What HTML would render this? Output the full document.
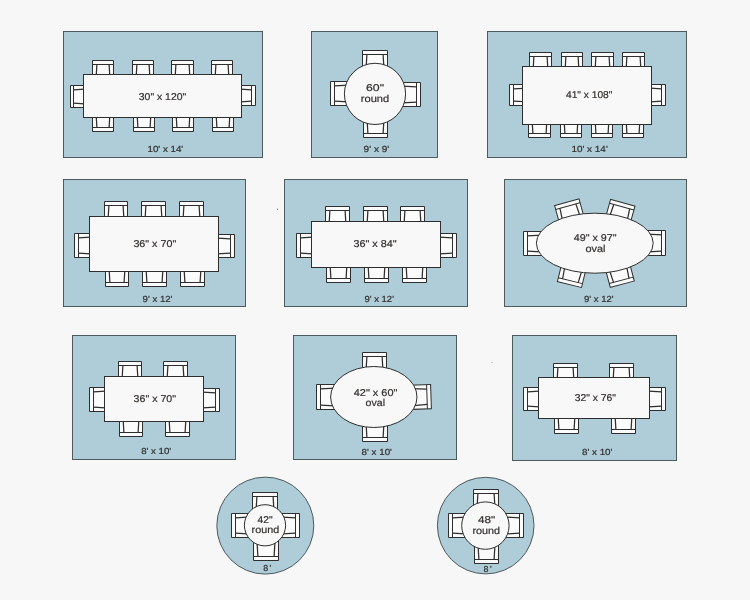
<!DOCTYPE html>
<html><head><meta charset="utf-8"><title>Rug size guide</title>
<style>
html,body{margin:0;padding:0;background:#f7f7f7;}
body{width:750px;height:600px;overflow:hidden;font-family:"Liberation Sans",sans-serif;}
svg{display:block;will-change:transform}
svg g path, svg ellipse, svg rect{stroke-linejoin:miter}
.t{text-rendering:geometricPrecision;font-family:"Liberation Sans",sans-serif;fill:#33302e;stroke:#33302e;stroke-width:.2px}
</style></head><body>
<svg width="750" height="600" viewBox="0 0 750 600" stroke="#2e2e2e" stroke-width="1">
<rect x="0" y="0" width="750" height="600" fill="#f7f7f7" stroke="none"/>
<rect x="63.5" y="31.5" width="199" height="126" fill="#aecdd8" stroke="#4d5a5e" stroke-width="1"/>
<g transform="translate(103 60.5) rotate(0)"><path d="M-10.5 0H10.5V15H-10.5Z" fill="#fbfbfb"/><path d="M-10.5 4H10.5" fill="none"/><path d="M-6.1 4L-6.76 15 M6.1 4L6.76 15" fill="none" stroke-width="1.25"/></g>
<g transform="translate(143 60.5) rotate(0)"><path d="M-10.5 0H10.5V15H-10.5Z" fill="#fbfbfb"/><path d="M-10.5 4H10.5" fill="none"/><path d="M-6.1 4L-6.76 15 M6.1 4L6.76 15" fill="none" stroke-width="1.25"/></g>
<g transform="translate(182.5 60.5) rotate(0)"><path d="M-11 0H11V15H-11Z" fill="#fbfbfb"/><path d="M-11 4H11" fill="none"/><path d="M-6.6 4L-7.26 15 M6.6 4L7.26 15" fill="none" stroke-width="1.25"/></g>
<g transform="translate(222 60.5) rotate(0)"><path d="M-10.5 0H10.5V15H-10.5Z" fill="#fbfbfb"/><path d="M-10.5 4H10.5" fill="none"/><path d="M-6.1 4L-6.76 15 M6.1 4L6.76 15" fill="none" stroke-width="1.25"/></g>
<g transform="translate(103 131.5) rotate(180)"><path d="M-10.5 0H10.5V15H-10.5Z" fill="#fbfbfb"/><path d="M-10.5 4H10.5" fill="none"/><path d="M-6.1 4L-6.76 15 M6.1 4L6.76 15" fill="none" stroke-width="1.25"/></g>
<g transform="translate(144 131.5) rotate(180)"><path d="M-10.5 0H10.5V15H-10.5Z" fill="#fbfbfb"/><path d="M-10.5 4H10.5" fill="none"/><path d="M-6.1 4L-6.76 15 M6.1 4L6.76 15" fill="none" stroke-width="1.25"/></g>
<g transform="translate(183 131.5) rotate(180)"><path d="M-10.5 0H10.5V15H-10.5Z" fill="#fbfbfb"/><path d="M-10.5 4H10.5" fill="none"/><path d="M-6.1 4L-6.76 15 M6.1 4L6.76 15" fill="none" stroke-width="1.25"/></g>
<g transform="translate(223 131.5) rotate(180)"><path d="M-10.5 0H10.5V15H-10.5Z" fill="#fbfbfb"/><path d="M-10.5 4H10.5" fill="none"/><path d="M-6.1 4L-6.76 15 M6.1 4L6.76 15" fill="none" stroke-width="1.25"/></g>
<g transform="translate(70.5 96.5) rotate(-90)"><path d="M-11 0H11V14H-11Z" fill="#fbfbfb"/><path d="M-11 3H11" fill="none"/><path d="M-6.6 3L-7.26 14 M6.6 3L7.26 14" fill="none" stroke-width="1.25"/></g>
<g transform="translate(255.5 95.5) rotate(90)"><path d="M-10 0H10V15H-10Z" fill="#fbfbfb"/><path d="M-10 4H10" fill="none"/><path d="M-5.6 4L-6.26 15 M5.6 4L6.26 15" fill="none" stroke-width="1.25"/></g>
<rect x="83.5" y="74.5" width="158" height="43" fill="#f8f8f8"/>
<text class="t" x="138.8" y="99.8" font-size="9.9" textLength="47.4" lengthAdjust="spacingAndGlyphs">30&quot; x 120&quot;</text>
<text class="t" x="147.5" y="152" font-size="8.9" textLength="35.7" lengthAdjust="spacingAndGlyphs">10' x 14'</text>
<rect x="311.5" y="31.5" width="126" height="126" fill="#aecdd8" stroke="#4d5a5e" stroke-width="1"/>
<g transform="translate(375 50.5) rotate(0)"><path d="M-12.5 0H12.5V21H-12.5Z" fill="#fbfbfb"/><path d="M-12.5 4H12.5" fill="none"/><path d="M-8.1 4L-9.12 21 M8.1 4L9.12 21" fill="none" stroke-width="1.25"/></g>
<g transform="translate(375.5 137.5) rotate(180)"><path d="M-12 0H12V21H-12Z" fill="#fbfbfb"/><path d="M-12 4H12" fill="none"/><path d="M-7.6 4L-8.62 21 M7.6 4L8.62 21" fill="none" stroke-width="1.25"/></g>
<g transform="translate(330.5 93.5) rotate(-90)"><path d="M-12 0H12V23H-12Z" fill="#fbfbfb"/><path d="M-12 4H12" fill="none"/><path d="M-7.6 4L-8.74 23 M7.6 4L8.74 23" fill="none" stroke-width="1.25"/></g>
<g transform="translate(420.5 94.5) rotate(90)"><path d="M-12 0H12V23H-12Z" fill="#fbfbfb"/><path d="M-12 4H12" fill="none"/><path d="M-7.6 4L-8.74 23 M7.6 4L8.74 23" fill="none" stroke-width="1.25"/></g>
<ellipse cx="375" cy="93.9" rx="30.6" ry="30.6" fill="#f8f8f8"/>
<text class="t" x="366" y="91.2" font-size="9.9" textLength="18" lengthAdjust="spacingAndGlyphs">60&quot;</text>
<text class="t" x="360.8" y="101.9" font-size="9.9" textLength="28.4" lengthAdjust="spacingAndGlyphs">round</text>
<text class="t" x="363.6" y="152.3" font-size="8.9" textLength="25.6" lengthAdjust="spacingAndGlyphs">9' x 9'</text>
<rect x="487.5" y="31.5" width="199" height="126" fill="#aecdd8" stroke="#4d5a5e" stroke-width="1"/>
<g transform="translate(540.5 52.5) rotate(0)"><path d="M-11 0H11V15H-11Z" fill="#fbfbfb"/><path d="M-11 4H11" fill="none"/><path d="M-6.6 4L-7.26 15 M6.6 4L7.26 15" fill="none" stroke-width="1.25"/></g>
<g transform="translate(572 52.5) rotate(0)"><path d="M-10.5 0H10.5V15H-10.5Z" fill="#fbfbfb"/><path d="M-10.5 4H10.5" fill="none"/><path d="M-6.1 4L-6.76 15 M6.1 4L6.76 15" fill="none" stroke-width="1.25"/></g>
<g transform="translate(602.5 52.5) rotate(0)"><path d="M-11 0H11V15H-11Z" fill="#fbfbfb"/><path d="M-11 4H11" fill="none"/><path d="M-6.6 4L-7.26 15 M6.6 4L7.26 15" fill="none" stroke-width="1.25"/></g>
<g transform="translate(633.5 52.5) rotate(0)"><path d="M-11 0H11V15H-11Z" fill="#fbfbfb"/><path d="M-11 4H11" fill="none"/><path d="M-6.6 4L-7.26 15 M6.6 4L7.26 15" fill="none" stroke-width="1.25"/></g>
<g transform="translate(539.5 137.5) rotate(180)"><path d="M-11 0H11V14H-11Z" fill="#fbfbfb"/><path d="M-11 4H11" fill="none"/><path d="M-6.6 4L-7.2 14 M6.6 4L7.2 14" fill="none" stroke-width="1.25"/></g>
<g transform="translate(571 137.5) rotate(180)"><path d="M-10.5 0H10.5V14H-10.5Z" fill="#fbfbfb"/><path d="M-10.5 4H10.5" fill="none"/><path d="M-6.1 4L-6.7 14 M6.1 4L6.7 14" fill="none" stroke-width="1.25"/></g>
<g transform="translate(602 137.5) rotate(180)"><path d="M-10.5 0H10.5V14H-10.5Z" fill="#fbfbfb"/><path d="M-10.5 4H10.5" fill="none"/><path d="M-6.1 4L-6.7 14 M6.1 4L6.7 14" fill="none" stroke-width="1.25"/></g>
<g transform="translate(633 137.5) rotate(180)"><path d="M-10.5 0H10.5V14H-10.5Z" fill="#fbfbfb"/><path d="M-10.5 4H10.5" fill="none"/><path d="M-6.1 4L-6.7 14 M6.1 4L6.7 14" fill="none" stroke-width="1.25"/></g>
<g transform="translate(509.5 95) rotate(-90)"><path d="M-10.5 0H10.5V14H-10.5Z" fill="#fbfbfb"/><path d="M-10.5 4H10.5" fill="none"/><path d="M-6.1 4L-6.7 14 M6.1 4L6.7 14" fill="none" stroke-width="1.25"/></g>
<g transform="translate(665.5 95) rotate(90)"><path d="M-10.5 0H10.5V15H-10.5Z" fill="#fbfbfb"/><path d="M-10.5 4H10.5" fill="none"/><path d="M-6.1 4L-6.76 15 M6.1 4L6.76 15" fill="none" stroke-width="1.25"/></g>
<rect x="522.5" y="66.5" width="129" height="58" fill="#f8f8f8"/>
<text class="t" x="566" y="98.2" font-size="9.9" textLength="46.4" lengthAdjust="spacingAndGlyphs">41&quot; x 108&quot;</text>
<text class="t" x="571.4" y="152.2" font-size="8.9" textLength="36.4" lengthAdjust="spacingAndGlyphs">10' x 14'</text>
<rect x="63.5" y="179.5" width="182" height="127" fill="#aecdd8" stroke="#4d5a5e" stroke-width="1"/>
<g transform="translate(116 201.5) rotate(0)"><path d="M-11.5 0H11.5V16H-11.5Z" fill="#fbfbfb"/><path d="M-11.5 4H11.5" fill="none"/><path d="M-7.1 4L-7.82 16 M7.1 4L7.82 16" fill="none" stroke-width="1.25"/></g>
<g transform="translate(153.5 201.5) rotate(0)"><path d="M-12 0H12V16H-12Z" fill="#fbfbfb"/><path d="M-12 4H12" fill="none"/><path d="M-7.6 4L-8.32 16 M7.6 4L8.32 16" fill="none" stroke-width="1.25"/></g>
<g transform="translate(191.5 201.5) rotate(0)"><path d="M-12 0H12V16H-12Z" fill="#fbfbfb"/><path d="M-12 4H12" fill="none"/><path d="M-7.6 4L-8.32 16 M7.6 4L8.32 16" fill="none" stroke-width="1.25"/></g>
<g transform="translate(117 286.5) rotate(180)"><path d="M-11.5 0H11.5V16H-11.5Z" fill="#fbfbfb"/><path d="M-11.5 4H11.5" fill="none"/><path d="M-7.1 4L-7.82 16 M7.1 4L7.82 16" fill="none" stroke-width="1.25"/></g>
<g transform="translate(154.5 286.5) rotate(180)"><path d="M-12 0H12V16H-12Z" fill="#fbfbfb"/><path d="M-12 4H12" fill="none"/><path d="M-7.6 4L-8.32 16 M7.6 4L8.32 16" fill="none" stroke-width="1.25"/></g>
<g transform="translate(192.5 286.5) rotate(180)"><path d="M-12 0H12V16H-12Z" fill="#fbfbfb"/><path d="M-12 4H12" fill="none"/><path d="M-7.6 4L-8.32 16 M7.6 4L8.32 16" fill="none" stroke-width="1.25"/></g>
<g transform="translate(74.5 245.5) rotate(-90)"><path d="M-12 0H12V16H-12Z" fill="#fbfbfb"/><path d="M-12 4H12" fill="none"/><path d="M-7.6 4L-8.32 16 M7.6 4L8.32 16" fill="none" stroke-width="1.25"/></g>
<g transform="translate(234.5 246) rotate(90)"><path d="M-11.5 0H11.5V17H-11.5Z" fill="#fbfbfb"/><path d="M-11.5 4H11.5" fill="none"/><path d="M-7.1 4L-7.88 17 M7.1 4L7.88 17" fill="none" stroke-width="1.25"/></g>
<rect x="89.5" y="216.5" width="129" height="55" fill="#f8f8f8"/>
<text class="t" x="133.4" y="246.8" font-size="9.9" textLength="42.8" lengthAdjust="spacingAndGlyphs">36&quot; x 70&quot;</text>
<text class="t" x="142.6" y="301.6" font-size="8.9" textLength="29.8" lengthAdjust="spacingAndGlyphs">9' x 12'</text>
<rect x="284.5" y="179.5" width="183" height="127" fill="#aecdd8" stroke="#4d5a5e" stroke-width="1"/>
<g transform="translate(337.5 206.5) rotate(0)"><path d="M-12 0H12V16H-12Z" fill="#fbfbfb"/><path d="M-12 4H12" fill="none"/><path d="M-7.6 4L-8.32 16 M7.6 4L8.32 16" fill="none" stroke-width="1.25"/></g>
<g transform="translate(375.5 206.5) rotate(0)"><path d="M-12 0H12V16H-12Z" fill="#fbfbfb"/><path d="M-12 4H12" fill="none"/><path d="M-7.6 4L-8.32 16 M7.6 4L8.32 16" fill="none" stroke-width="1.25"/></g>
<g transform="translate(412.5 206.5) rotate(0)"><path d="M-12 0H12V16H-12Z" fill="#fbfbfb"/><path d="M-12 4H12" fill="none"/><path d="M-7.6 4L-8.32 16 M7.6 4L8.32 16" fill="none" stroke-width="1.25"/></g>
<g transform="translate(338.5 282.5) rotate(180)"><path d="M-12 0H12V16H-12Z" fill="#fbfbfb"/><path d="M-12 4H12" fill="none"/><path d="M-7.6 4L-8.32 16 M7.6 4L8.32 16" fill="none" stroke-width="1.25"/></g>
<g transform="translate(376.5 282.5) rotate(180)"><path d="M-12 0H12V16H-12Z" fill="#fbfbfb"/><path d="M-12 4H12" fill="none"/><path d="M-7.6 4L-8.32 16 M7.6 4L8.32 16" fill="none" stroke-width="1.25"/></g>
<g transform="translate(414.5 282.5) rotate(180)"><path d="M-12 0H12V16H-12Z" fill="#fbfbfb"/><path d="M-12 4H12" fill="none"/><path d="M-7.6 4L-8.32 16 M7.6 4L8.32 16" fill="none" stroke-width="1.25"/></g>
<g transform="translate(296.5 245.5) rotate(-90)"><path d="M-12 0H12V16H-12Z" fill="#fbfbfb"/><path d="M-12 4H12" fill="none"/><path d="M-7.6 4L-8.32 16 M7.6 4L8.32 16" fill="none" stroke-width="1.25"/></g>
<g transform="translate(456.5 245.5) rotate(90)"><path d="M-12 0H12V17H-12Z" fill="#fbfbfb"/><path d="M-12 4H12" fill="none"/><path d="M-7.6 4L-8.38 17 M7.6 4L8.38 17" fill="none" stroke-width="1.25"/></g>
<rect x="311.5" y="221.5" width="129" height="46" fill="#f8f8f8"/>
<text class="t" x="353.4" y="246.8" font-size="9.9" textLength="43.2" lengthAdjust="spacingAndGlyphs">36&quot; x 84&quot;</text>
<text class="t" x="364.4" y="301.6" font-size="8.9" textLength="29.6" lengthAdjust="spacingAndGlyphs">9' x 12'</text>
<rect x="504.5" y="179.5" width="182" height="127" fill="#aecdd8" stroke="#4d5a5e" stroke-width="1"/>
<g transform="translate(523.5 243.5) rotate(-90)"><path d="M-12 0H12V23H-12Z" fill="#fbfbfb"/><path d="M-12 4H12" fill="none"/><path d="M-7.6 4L-8.74 23 M7.6 4L8.74 23" fill="none" stroke-width="1.25"/></g>
<g transform="translate(665.5 243) rotate(90)"><path d="M-12.5 0H12.5V22H-12.5Z" fill="#fbfbfb"/><path d="M-12.5 4H12.5" fill="none"/><path d="M-8.1 4L-9.18 22 M8.1 4L9.18 22" fill="none" stroke-width="1.25"/></g>
<g transform="translate(566.8 202.2) rotate(-15.57)"><path d="M-12.66 0H12.66V20H-12.66Z" fill="#fbfbfb"/><path d="M-12.66 4H12.66" fill="none"/><path d="M-8.26 4L-9.22 20 M8.26 4L9.22 20" fill="none" stroke-width="1.25"/></g>
<g transform="translate(622.8 202.8) rotate(15.57)"><path d="M-12.66 0H12.66V20H-12.66Z" fill="#fbfbfb"/><path d="M-12.66 4H12.66" fill="none"/><path d="M-8.26 4L-9.22 20 M8.26 4L9.22 20" fill="none" stroke-width="1.25"/></g>
<g transform="translate(569.45 284.55) rotate(-166.24)"><path d="M-12.41 0H12.41V20H-12.41Z" fill="#fbfbfb"/><path d="M-12.41 4H12.41" fill="none"/><path d="M-8.01 4L-8.97 20 M8.01 4L8.97 20" fill="none" stroke-width="1.25"/></g>
<g transform="translate(622.3 284.2) rotate(165.07)"><path d="M-12.42 0H12.42V20H-12.42Z" fill="#fbfbfb"/><path d="M-12.42 4H12.42" fill="none"/><path d="M-8.02 4L-8.98 20 M8.02 4L8.98 20" fill="none" stroke-width="1.25"/></g>
<ellipse cx="594.8" cy="243.2" rx="58.4" ry="30" fill="#f8f8f8"/>
<text class="t" x="573.8" y="241.4" font-size="9.9" textLength="42.8" lengthAdjust="spacingAndGlyphs">49&quot; x 97&quot;</text>
<text class="t" x="585.4" y="252.1" font-size="9.9" textLength="20" lengthAdjust="spacingAndGlyphs">oval</text>
<text class="t" x="584" y="301.6" font-size="8.9" textLength="29.6" lengthAdjust="spacingAndGlyphs">9' x 12'</text>
<rect x="72.5" y="335.5" width="163" height="124" fill="#aecdd8" stroke="#4d5a5e" stroke-width="1"/>
<g transform="translate(130 361.5) rotate(0)"><path d="M-11.5 0H11.5V16H-11.5Z" fill="#fbfbfb"/><path d="M-11.5 4H11.5" fill="none"/><path d="M-7.1 4L-7.82 16 M7.1 4L7.82 16" fill="none" stroke-width="1.25"/></g>
<g transform="translate(175.5 361.5) rotate(0)"><path d="M-12 0H12V16H-12Z" fill="#fbfbfb"/><path d="M-12 4H12" fill="none"/><path d="M-7.6 4L-8.32 16 M7.6 4L8.32 16" fill="none" stroke-width="1.25"/></g>
<g transform="translate(131 436.5) rotate(180)"><path d="M-11.5 0H11.5V16H-11.5Z" fill="#fbfbfb"/><path d="M-11.5 4H11.5" fill="none"/><path d="M-7.1 4L-7.82 16 M7.1 4L7.82 16" fill="none" stroke-width="1.25"/></g>
<g transform="translate(177.5 436.5) rotate(180)"><path d="M-12 0H12V16H-12Z" fill="#fbfbfb"/><path d="M-12 4H12" fill="none"/><path d="M-7.6 4L-8.32 16 M7.6 4L8.32 16" fill="none" stroke-width="1.25"/></g>
<g transform="translate(89.5 399.5) rotate(-90)"><path d="M-12 0H12V16H-12Z" fill="#fbfbfb"/><path d="M-12 4H12" fill="none"/><path d="M-7.6 4L-8.32 16 M7.6 4L8.32 16" fill="none" stroke-width="1.25"/></g>
<g transform="translate(219.5 400) rotate(90)"><path d="M-11.5 0H11.5V17H-11.5Z" fill="#fbfbfb"/><path d="M-11.5 4H11.5" fill="none"/><path d="M-7.1 4L-7.88 17 M7.1 4L7.88 17" fill="none" stroke-width="1.25"/></g>
<rect x="104.5" y="376.5" width="99" height="45" fill="#f8f8f8"/>
<text class="t" x="133.6" y="402.2" font-size="9.9" textLength="42.4" lengthAdjust="spacingAndGlyphs">36&quot; x 70&quot;</text>
<text class="t" x="141.2" y="454.2" font-size="8.9" textLength="30" lengthAdjust="spacingAndGlyphs">8' x 10'</text>
<rect x="293.5" y="335.5" width="163" height="124" fill="#aecdd8" stroke="#4d5a5e" stroke-width="1"/>
<g transform="translate(374.5 352.5) rotate(0)"><path d="M-12 0H12V21H-12Z" fill="#fbfbfb"/><path d="M-12 4H12" fill="none"/><path d="M-7.6 4L-8.62 21 M7.6 4L8.62 21" fill="none" stroke-width="1.25"/></g>
<g transform="translate(375 441.5) rotate(180)"><path d="M-12.5 0H12.5V21H-12.5Z" fill="#fbfbfb"/><path d="M-12.5 4H12.5" fill="none"/><path d="M-8.1 4L-9.12 21 M8.1 4L9.12 21" fill="none" stroke-width="1.25"/></g>
<g transform="translate(316.5 397) rotate(-90)"><path d="M-12.5 0H12.5V23H-12.5Z" fill="#fbfbfb"/><path d="M-12.5 4H12.5" fill="none"/><path d="M-8.1 4L-9.24 23 M8.1 4L9.24 23" fill="none" stroke-width="1.25"/></g>
<g transform="translate(431 396.65) rotate(88.1)"><path d="M-12.06 0H12.06V20H-12.06Z" fill="#fbfbfb"/><path d="M-12.06 4H12.06" fill="none"/><path d="M-7.66 4L-8.62 20 M7.66 4L8.62 20" fill="none" stroke-width="1.25"/></g>
<ellipse cx="373.8" cy="397" rx="43.2" ry="30.5" fill="#f8f8f8"/>
<text class="t" x="353.8" y="395.9" font-size="9.9" textLength="43.6" lengthAdjust="spacingAndGlyphs">42&quot; x 60&quot;</text>
<text class="t" x="365.6" y="405.9" font-size="9.9" textLength="19.4" lengthAdjust="spacingAndGlyphs">oval</text>
<text class="t" x="361.6" y="455.2" font-size="8.9" textLength="30.4" lengthAdjust="spacingAndGlyphs">8' x 10'</text>
<rect x="512.5" y="335.5" width="164" height="125" fill="#aecdd8" stroke="#4d5a5e" stroke-width="1"/>
<g transform="translate(565.5 363.5) rotate(0)"><path d="M-12 0H12V15H-12Z" fill="#fbfbfb"/><path d="M-12 4H12" fill="none"/><path d="M-7.6 4L-8.26 15 M7.6 4L8.26 15" fill="none" stroke-width="1.25"/></g>
<g transform="translate(621.5 363.5) rotate(0)"><path d="M-12 0H12V15H-12Z" fill="#fbfbfb"/><path d="M-12 4H12" fill="none"/><path d="M-7.6 4L-8.26 15 M7.6 4L8.26 15" fill="none" stroke-width="1.25"/></g>
<g transform="translate(566.5 433.5) rotate(180)"><path d="M-12 0H12V16H-12Z" fill="#fbfbfb"/><path d="M-12 4H12" fill="none"/><path d="M-7.6 4L-8.32 16 M7.6 4L8.32 16" fill="none" stroke-width="1.25"/></g>
<g transform="translate(623.5 433.5) rotate(180)"><path d="M-12 0H12V16H-12Z" fill="#fbfbfb"/><path d="M-12 4H12" fill="none"/><path d="M-7.6 4L-8.32 16 M7.6 4L8.32 16" fill="none" stroke-width="1.25"/></g>
<g transform="translate(523.5 399) rotate(-90)"><path d="M-11.5 0H11.5V16H-11.5Z" fill="#fbfbfb"/><path d="M-11.5 4H11.5" fill="none"/><path d="M-7.1 4L-7.82 16 M7.1 4L7.82 16" fill="none" stroke-width="1.25"/></g>
<g transform="translate(665.5 399) rotate(90)"><path d="M-11.5 0H11.5V17H-11.5Z" fill="#fbfbfb"/><path d="M-11.5 4H11.5" fill="none"/><path d="M-7.1 4L-7.88 17 M7.1 4L7.88 17" fill="none" stroke-width="1.25"/></g>
<rect x="538.5" y="377.5" width="111" height="41" fill="#f8f8f8"/>
<text class="t" x="574.8" y="401.4" font-size="9.9" textLength="41.2" lengthAdjust="spacingAndGlyphs">32&quot; x 76&quot;</text>
<text class="t" x="582" y="455.4" font-size="8.9" textLength="30.4" lengthAdjust="spacingAndGlyphs">8' x 10'</text>
<ellipse cx="265.3" cy="525.6" rx="48.5" ry="48.5" fill="#aecdd8" stroke="#4d5a5e" stroke-width="1"/>
<g transform="translate(265 492.5) rotate(0)"><path d="M-12.5 0H12.5V19H-12.5Z" fill="#fbfbfb"/><path d="M-12.5 4H12.5" fill="none"/><path d="M-8.1 4L-9 19 M8.1 4L9 19" fill="none" stroke-width="1.25"/></g>
<g transform="translate(266 560.5) rotate(180)"><path d="M-12.5 0H12.5V22H-12.5Z" fill="#fbfbfb"/><path d="M-12.5 4H12.5" fill="none"/><path d="M-8.1 4L-9.18 22 M8.1 4L9.18 22" fill="none" stroke-width="1.25"/></g>
<g transform="translate(231.5 525.5) rotate(-90)"><path d="M-12 0H12V20H-12Z" fill="#fbfbfb"/><path d="M-12 4H12" fill="none"/><path d="M-7.6 4L-8.56 20 M7.6 4L8.56 20" fill="none" stroke-width="1.25"/></g>
<g transform="translate(299.5 525.5) rotate(90)"><path d="M-12 0H12V21H-12Z" fill="#fbfbfb"/><path d="M-12 4H12" fill="none"/><path d="M-7.6 4L-8.62 21 M7.6 4L8.62 21" fill="none" stroke-width="1.25"/></g>
<ellipse cx="265" cy="525.3" rx="20.6" ry="20.6" fill="#f8f8f8"/>
<text class="t" x="257.6" y="523" font-size="9.9" textLength="15" lengthAdjust="spacingAndGlyphs">42&quot;</text>
<text class="t" x="251.6" y="533" font-size="9.9" textLength="27.6" lengthAdjust="spacingAndGlyphs">round</text>
<text class="t" x="263.2" y="570.8" font-size="8.9" textLength="8" lengthAdjust="spacing">8'</text>
<ellipse cx="485.7" cy="525.6" rx="48.3" ry="48.3" fill="#aecdd8" stroke="#4d5a5e" stroke-width="1"/>
<g transform="translate(486 489.5) rotate(0)"><path d="M-12.5 0H12.5V20H-12.5Z" fill="#fbfbfb"/><path d="M-12.5 4H12.5" fill="none"/><path d="M-8.1 4L-9.06 20 M8.1 4L9.06 20" fill="none" stroke-width="1.25"/></g>
<g transform="translate(486.5 563.5) rotate(180)"><path d="M-12 0H12V22H-12Z" fill="#fbfbfb"/><path d="M-12 4H12" fill="none"/><path d="M-7.6 4L-8.68 22 M7.6 4L8.68 22" fill="none" stroke-width="1.25"/></g>
<g transform="translate(448.5 525.5) rotate(-90)"><path d="M-12 0H12V21H-12Z" fill="#fbfbfb"/><path d="M-12 4H12" fill="none"/><path d="M-7.6 4L-8.62 21 M7.6 4L8.62 21" fill="none" stroke-width="1.25"/></g>
<g transform="translate(523.5 525.5) rotate(90)"><path d="M-12 0H12V22H-12Z" fill="#fbfbfb"/><path d="M-12 4H12" fill="none"/><path d="M-7.6 4L-8.68 22 M7.6 4L8.68 22" fill="none" stroke-width="1.25"/></g>
<ellipse cx="485.4" cy="525.6" rx="23.7" ry="23.7" fill="#f8f8f8"/>
<text class="t" x="478" y="523.4" font-size="9.9" textLength="17.2" lengthAdjust="spacingAndGlyphs">48&quot;</text>
<text class="t" x="472.4" y="533.6" font-size="9.9" textLength="27.6" lengthAdjust="spacingAndGlyphs">round</text>
<text class="t" x="483.6" y="572.2" font-size="8.9" textLength="8.2" lengthAdjust="spacing">8'</text>
<rect x="277" y="208.6" width="1" height="1.4" fill="#8c8c8c" stroke="none"/>
<rect x="491.2" y="362.1" width="1.4" height="1" fill="#b4b4b4" stroke="none"/>
</svg>
</body></html>
